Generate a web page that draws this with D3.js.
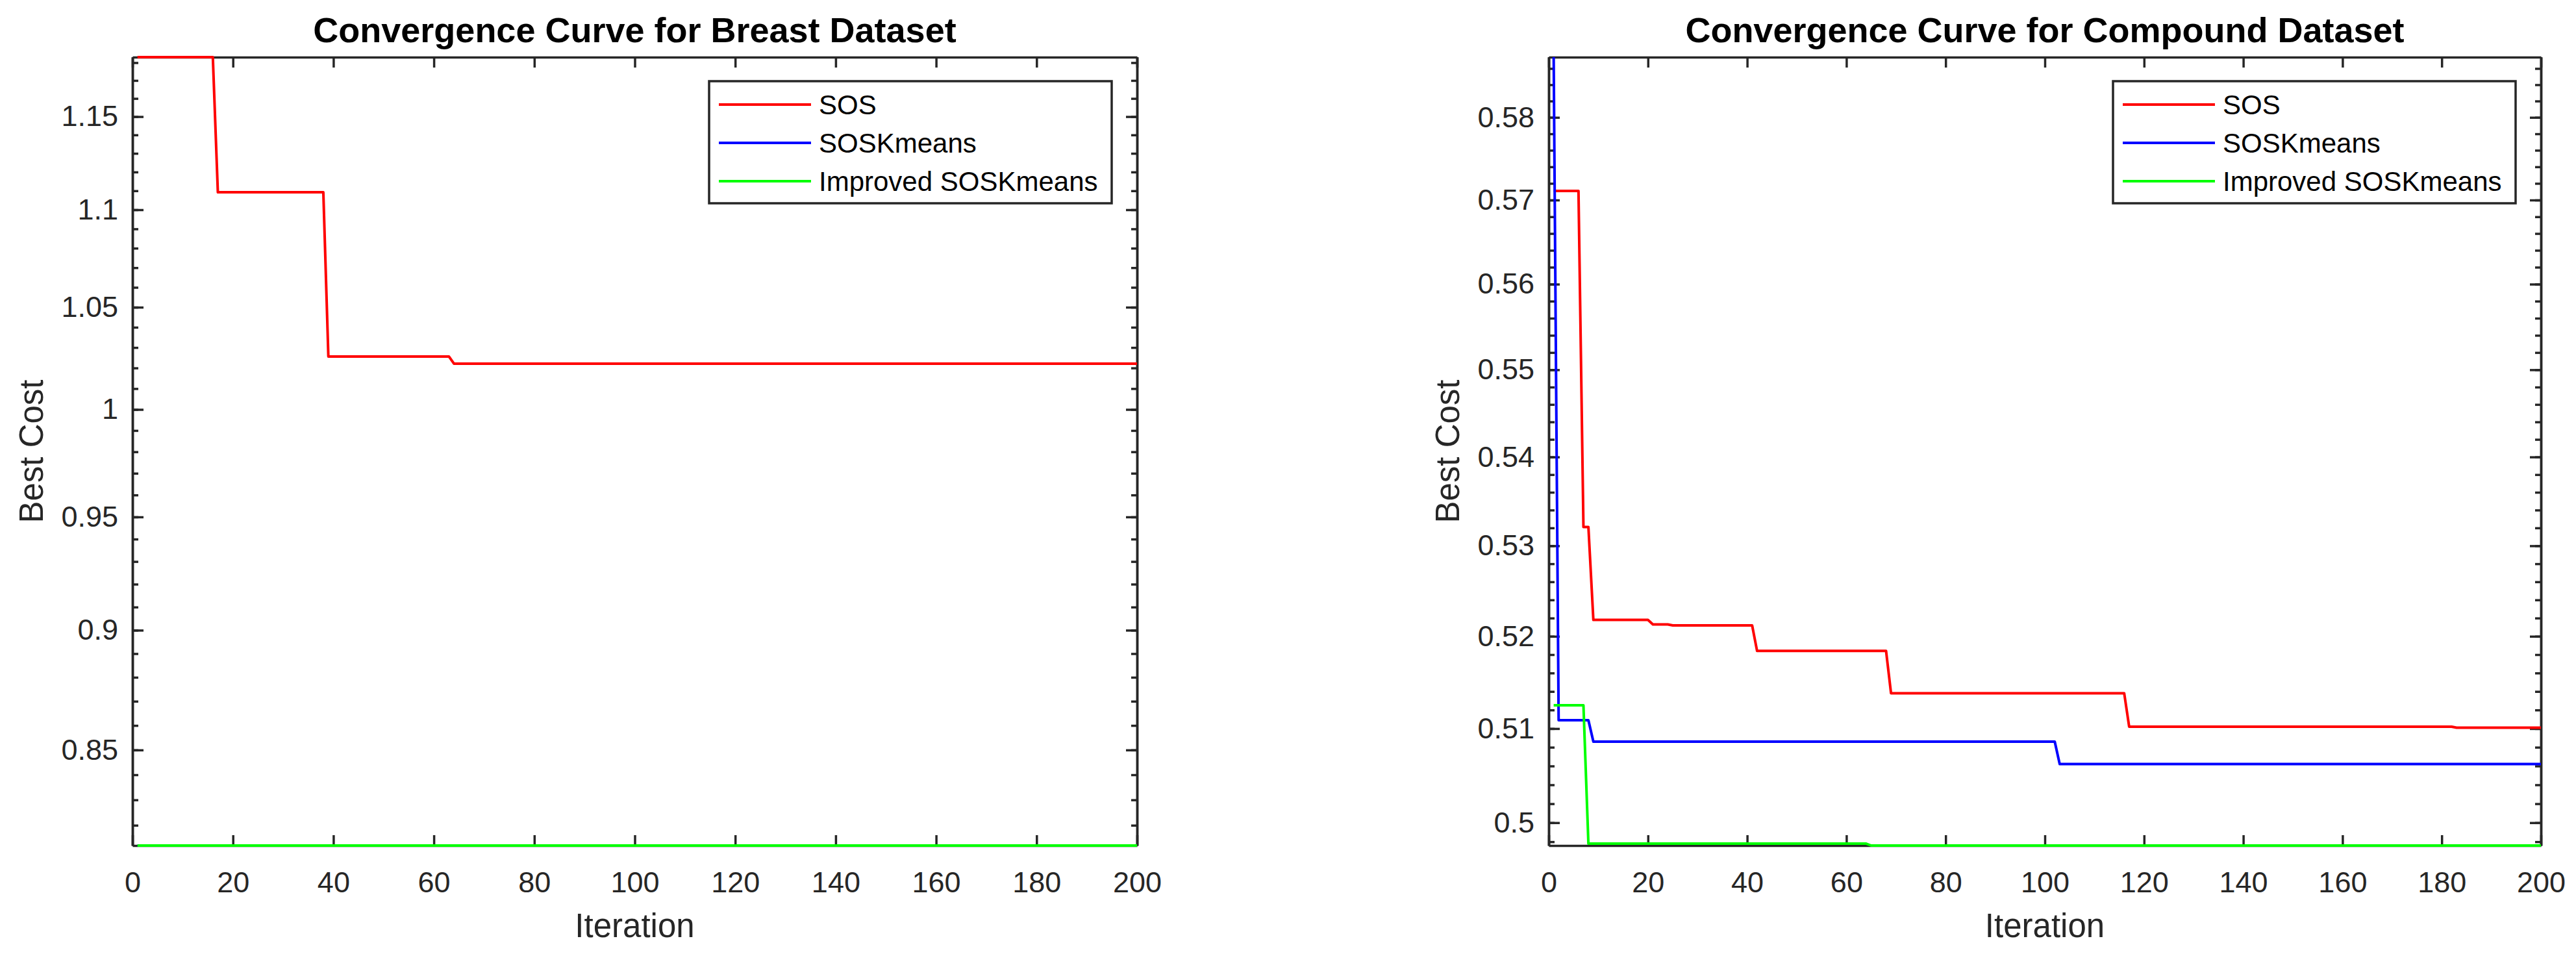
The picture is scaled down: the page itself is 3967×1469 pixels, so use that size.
<!DOCTYPE html>
<html>
<head>
<meta charset="utf-8">
<script src="https://cdn.jsdelivr.net/npm/d3@7"></script>
<style>
  body { margin: 0; background: #fff; }
  svg { display: block; font-family: "Liberation Sans", Arial, Helvetica, sans-serif; }
</style>
</head>
<body>
<svg id="chart" width="3967" height="1469"></svg>
<script>
// series names + colours
let seriesNames = ["SOS", "SOSKmeans", "Improved SOSKmeans"];
let seriesColors = ["#ff0000", "#0000ff", "#00ff00"];

// x axis (both panels)
let iterDomain = [0, 200];
let iterTicks = [0, 20, 40, 60, 80, 100, 120, 140, 160, 180, 200];

// Breast dataset: polyline vertices (iteration, best cost), y axis is log
let breastIterSOS = [1, 16, 17, 38, 39, 63, 64, 200];
let breastSOS = [1.1831, 1.1831, 1.1092, 1.1092, 1.0256, 1.0256, 1.0221, 1.0221];
let breastIterSOSK = [1, 200];
let breastSOSK = [0.8121, 0.8121];
let breastIterImp = [1, 200];
let breastImp = [0.8121, 0.8121];
let breastYDomain = [0.8121, 1.1831];
let breastYTicks = [0.85, 0.9, 0.95, 1, 1.05, 1.1, 1.15];
let breastYLabels = ["0.85", "0.9", "0.95", "1", "1.05", "1.1", "1.15"];
let breastMinorStep = 0.01;

// Compound dataset
let compIterSOS = [1, 6, 7, 8, 9, 20, 21, 24, 25, 41, 42, 68, 69, 116, 117, 182, 183, 200];
let compSOS = [0.5711, 0.5711, 0.5321, 0.5321, 0.5218, 0.5218, 0.5213, 0.5213, 0.5212, 0.5212, 0.5184, 0.5184, 0.5138, 0.5138, 0.5102, 0.5102, 0.5101, 0.5101];
let compIterSOSK = [1, 2, 8, 9, 102, 103, 200];
let compSOSK = [0.5874, 0.5109, 0.5109, 0.5086, 0.5086, 0.5062, 0.5062];
let compIterImp = [1, 7, 8, 64, 65, 200];
let compImp = [0.5125, 0.5125, 0.4978, 0.4978, 0.4976, 0.4976];
let compYDomain = [0.4976, 0.5874];
let compYTicks = [0.5, 0.51, 0.52, 0.53, 0.54, 0.55, 0.56, 0.57, 0.58];
let compYLabels = ["0.5", "0.51", "0.52", "0.53", "0.54", "0.55", "0.56", "0.57", "0.58"];
let compMinorStep = 0.002;

const axisColor = "#262626";
const svg = d3.select("#chart");

function zip(xs, ys) {
    return xs.map((x, i) => ({ x: x, y: ys[i] }));
}

function minorTicks(domain, step) {
    // every minor step inside the y range
    let out = [];
    let start = Math.ceil(domain[0] / step - 1e-6);
    let end = Math.floor(domain[1] / step + 1e-6);
    for (let k = start; k <= end; k++) out.push(+(k * step).toFixed(4));
    return out;
}

function styleAxis(g) {
    g.select(".domain").attr("stroke", axisColor).attr("stroke-width", 3.5);
    g.selectAll(".tick line").attr("stroke", axisColor).attr("stroke-width", 3.5);
    g.selectAll(".tick text")
        .attr("fill", axisColor)
        .style("font-size", "45px");
}

// draw one panel
function drawPanel(p) {
    let x = d3.scaleLinear().domain(iterDomain).range([p.left, p.right]);
    let y = d3.scaleLog().domain(p.yDomain).range([p.bottom, p.top]);
    let g = svg.append("g");

    // minor y ticks, left + right
    let minors = minorTicks(p.yDomain, p.minorStep);
    g.append("g")
        .attr("transform", `translate(${p.left},0)`)
        .call(d3.axisLeft(y).tickValues(minors).tickFormat("").tickSize(-9).tickSizeOuter(0))
        .call(styleAxis);
    g.append("g")
        .attr("transform", `translate(${p.right},0)`)
        .call(d3.axisRight(y).tickValues(minors).tickFormat("").tickSize(-9).tickSizeOuter(0))
        .call(styleAxis);

    // major y ticks
    g.append("g")
        .attr("transform", `translate(${p.left},0)`)
        .call(d3.axisLeft(y).tickValues(p.yTicks)
            .tickFormat((d, i) => p.yLabels[i])
            .tickSize(-17).tickSizeOuter(0).tickPadding(22))
        .call(styleAxis);
    g.append("g")
        .attr("transform", `translate(${p.right},0)`)
        .call(d3.axisRight(y).tickValues(p.yTicks).tickFormat("").tickSize(-17).tickSizeOuter(0))
        .call(styleAxis);

    // x axes, bottom with labels, top plain
    g.append("g")
        .attr("transform", `translate(0,${p.bottom})`)
        .call(d3.axisBottom(x).tickValues(iterTicks).tickSize(-16).tickSizeOuter(0).tickPadding(40))
        .call(styleAxis);
    g.append("g")
        .attr("transform", `translate(0,${p.top})`)
        .call(d3.axisTop(x).tickValues(iterTicks).tickFormat("").tickSize(-16).tickSizeOuter(0))
        .call(styleAxis);

    // title + axis labels
    svg.append("text")
        .attr("x", (p.left + p.right) / 2)
        .attr("y", 65)
        .attr("text-anchor", "middle")
        .style("font-size", "54px")
        .style("font-weight", "bold")
        .attr("fill", "#000")
        .text(p.title);
    svg.append("text")
        .attr("x", (p.left + p.right) / 2)
        .attr("y", 1443)
        .attr("text-anchor", "middle")
        .style("font-size", "51px")
        .attr("fill", axisColor)
        .text("Iteration");
    svg.append("text")
        .attr("transform", `translate(${p.left - 138},${(p.top + p.bottom) / 2}) rotate(-90)`)
        .attr("text-anchor", "middle")
        .style("font-size", "51px")
        .attr("fill", axisColor)
        .text("Best Cost");

    // lines
    let line = d3.line().x(d => x(d.x)).y(d => y(d.y));
    p.series.forEach((s, i) => {
        svg.append("path")
            .datum(s)
            .attr("fill", "none")
            .attr("stroke", seriesColors[i])
            .attr("stroke-width", 4)
            .attr("stroke-linejoin", "round")
            .attr("d", line);
    });

    // legend box
    let lg = svg.append("g").attr("transform", `translate(${p.right - 39 - 620},125)`);
    lg.append("rect")
        .attr("width", 620).attr("height", 188)
        .attr("fill", "#fff")
        .attr("stroke", axisColor)
        .attr("stroke-width", 3.5);
    seriesNames.forEach((name, i) => {
        let cy = 36 + i * 59;
        lg.append("line")
            .attr("x1", 15).attr("x2", 157)
            .attr("y1", cy).attr("y2", cy)
            .attr("stroke", seriesColors[i])
            .attr("stroke-width", 4);
        lg.append("text")
            .attr("x", 169).attr("y", cy + 15)
            .style("font-size", "42px")
            .attr("fill", "#000")
            .text(name);
    });
}

drawPanel({
    title: "Convergence Curve for Breast Dataset",
    left: 204, right: 1751, top: 88, bottom: 1302,
    yDomain: breastYDomain, yTicks: breastYTicks, yLabels: breastYLabels, minorStep: breastMinorStep,
    series: [zip(breastIterSOS, breastSOS), zip(breastIterSOSK, breastSOSK), zip(breastIterImp, breastImp)]
});

drawPanel({
    title: "Convergence Curve for Compound Dataset",
    left: 2385, right: 3913, top: 88, bottom: 1302,
    yDomain: compYDomain, yTicks: compYTicks, yLabels: compYLabels, minorStep: compMinorStep,
    series: [zip(compIterSOS, compSOS), zip(compIterSOSK, compSOSK), zip(compIterImp, compImp)]
});
</script>
</body>
</html>
